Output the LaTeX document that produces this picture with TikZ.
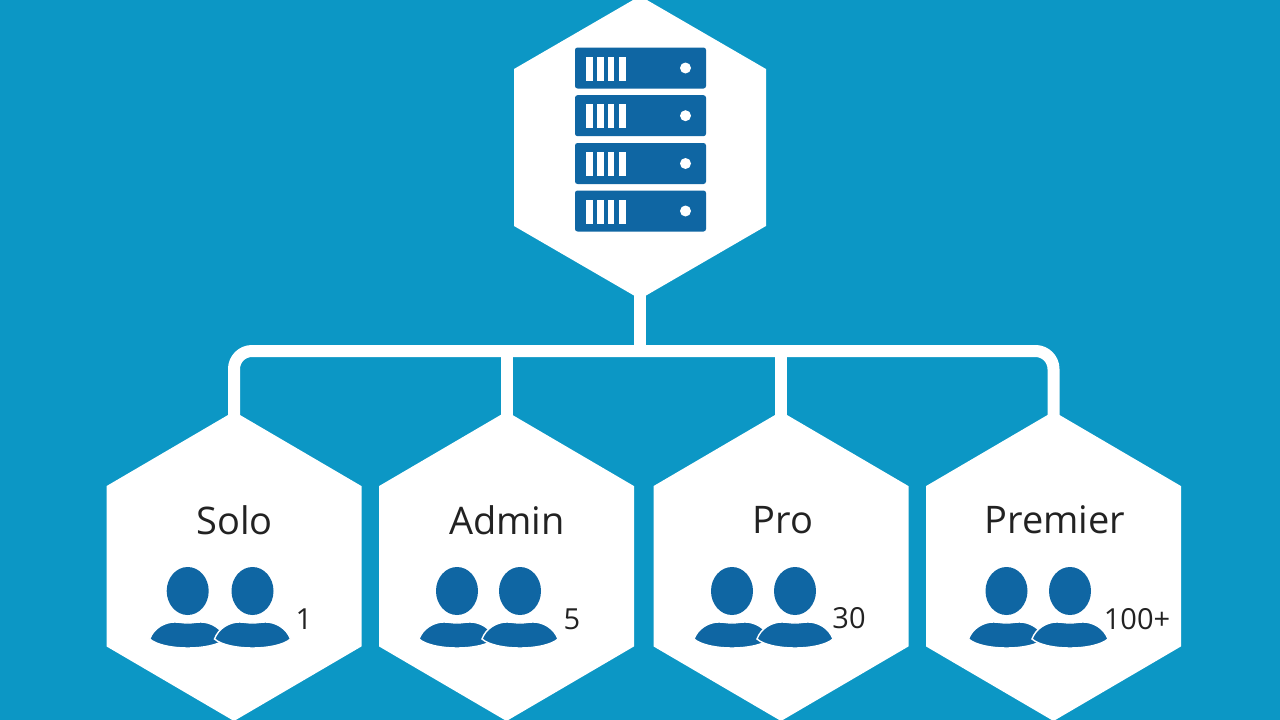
\documentclass[tikz,border=0pt]{standalone}
\usepackage{fontspec}
\setmainfont{Open Sans}
\usetikzlibrary{calc}
\definecolor{bgblue}{HTML}{0C97C5}
\definecolor{iconblue}{HTML}{0F66A3}
\definecolor{inktext}{HTML}{222222}
\tikzset{
  x=1pt,y=-1pt,
  hexbox/.style={rectangle,inner sep=0pt,outer sep=0pt,minimum width=255pt,minimum height=309.5pt},
  tophex/.style={rectangle,inner sep=0pt,outer sep=0pt,minimum width=252pt,minimum height=303pt},
  conn/.style={draw=white,line width=12pt,line join=round,rounded corners=18pt},
  tierlabel/.style={inner sep=0pt,font=\fontsize{38pt}{44pt}\selectfont,text=inktext},
  countlabel/.style={inner sep=0pt,font=\fontsize{29pt}{34pt}\selectfont,text=inktext},
  rack/.style={fill=iconblue,rounded corners=2.5pt},
  person/.pic={
    \fill[iconblue] (0,0) ellipse [x radius=21,y radius=24];
    \filldraw[iconblue,draw=white,line width=1.4pt]
      (-38,48) .. controls (-34,37) and (-23,31) .. (-13,31)
      .. controls (-8,31) and (-5,32) .. (0,32)
      .. controls (5,32) and (8,31) .. (13,31)
      .. controls (23,31) and (34,37) .. (38,48)
      .. controls (24,60) and (-24,60) .. (-38,48) -- cycle;
  },
  pics/rackunit/.style={code={
    \fill[rack] (0,0) rectangle (131,41);
    \foreach \bx/\bw in {11/7,21.5/7,32.5/6.5,43.5/7.5}{
      \fill[white] (\bx,9) rectangle ++(\bw,24);
    }
    \fill[white] (110.5,20.5) circle [radius=5.5];
  }},
}
\newcommand{\hexshape}[2]{%
  \fill[white] (#1.north)
    -- ($(#1.north east)!#2!(#1.south east)$)
    -- ($(#1.south east)!#2!(#1.north east)$)
    -- (#1.south)
    -- ($(#1.south west)!#2!(#1.north west)$)
    -- ($(#1.north west)!#2!(#1.south west)$) -- cycle;}
\begin{document}
\begin{tikzpicture}
\useasboundingbox (0,0) rectangle (1280,720);
\fill[bgblue] (0,0) rectangle (1280,720);
% anchors of the hexagons
\node[tophex] (server) at (640,147.5) {};
\node[hexbox] (solo) at (234,566.25) {};
\node[hexbox] (admin) at (506.5,566.25) {};
\node[hexbox] (pro) at (781,566.25) {};
\node[hexbox] (premier) at (1053.5,566.25) {};
\coordinate (bus) at (640,351);
\coordinate (busleft) at (solo.north |- bus);
\coordinate (busright) at (premier.north |- bus);
\coordinate (busadmin) at (admin.north |- bus);
\coordinate (buspro) at (pro.north |- bus);
% connectors
\draw[conn] ($(solo.north)+(0,8)$) -- (busleft) -- (busright) -- ($(premier.north)+(0,8)$);
\draw[conn] ($(server.south)+(0,-8)$) -- (bus);
\draw[conn] (busadmin) -- ($(admin.north)+(0,8)$);
\draw[conn] (buspro) -- ($(pro.north)+(0,8)$);
% hexagons
\hexshape{server}{0.241}
\hexshape{solo}{0.241}
\hexshape{admin}{0.241}
\hexshape{pro}{0.241}
\hexshape{premier}{0.241}
% server icon
\pic at (575,47.5) {rackunit};
\pic at (575,95.2) {rackunit};
\pic at (575,143) {rackunit};
\pic at (575,190.5) {rackunit};
% labels
\node[tierlabel] (solotext) at (234.5,520) {Solo};
\node[tierlabel] (admintext) at (507,520) {Admin};
\node[tierlabel] (protext) at (783,520) {Pro};
\node[tierlabel] (premiertext) at (1055,520) {Premier};
% people
\pic at (187.7,591) {person};
\pic at (252.5,591) {person};
\pic at (457,591) {person};
\pic at (520,591) {person};
\pic at (732,591) {person};
\pic at (795,591) {person};
\pic at (1006.5,591) {person};
\pic at (1070,591) {person};
% counts
\node[countlabel] (solocount) at (304,619) {1};
\node[countlabel] (admincount) at (572,619) {5};
\node[countlabel] (procount) at (849,618) {30};
\node[countlabel] (premiercount) at (1137,619) {100+};
\end{tikzpicture}
\end{document}
